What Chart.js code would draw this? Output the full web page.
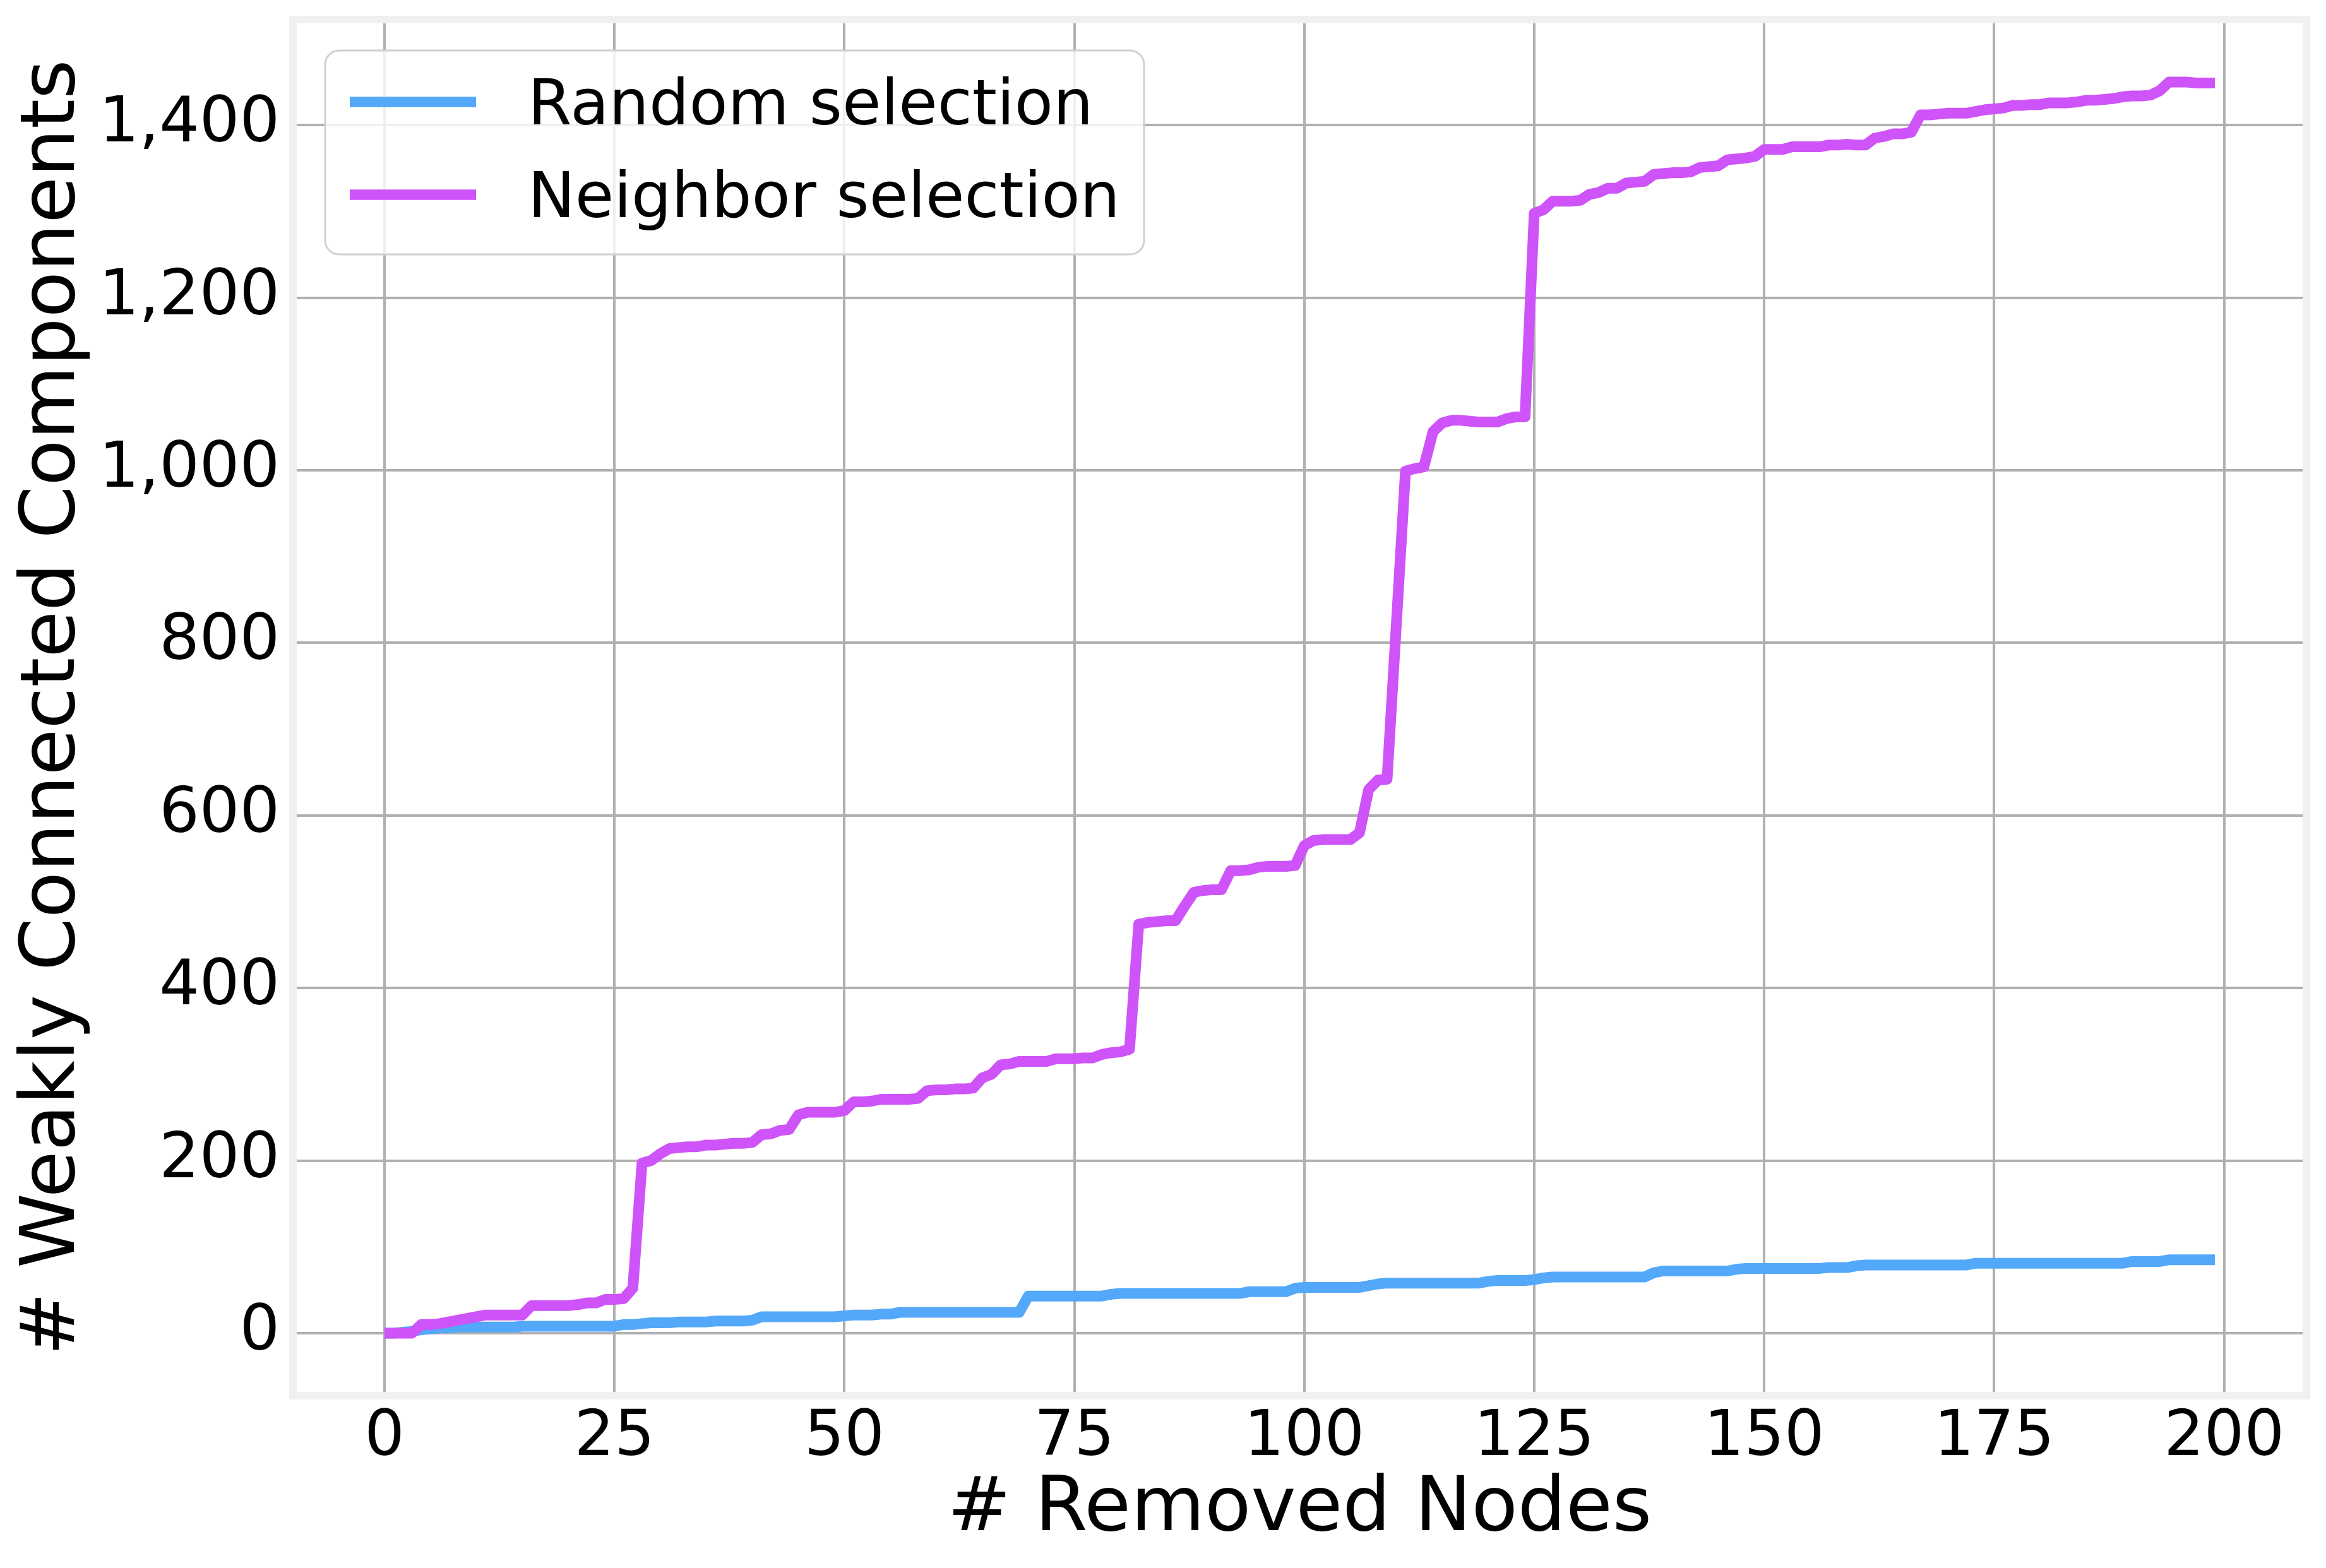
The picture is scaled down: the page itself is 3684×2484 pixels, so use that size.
<!DOCTYPE html>
<html>
<head>
<meta charset="utf-8">
<script src="https://cdn.jsdelivr.net/npm/chart.js@4"></script>
<style>
  html, body { margin: 0; padding: 0; background: #ffffff; }
  canvas { display: block; }
</style>
</head>
<body>
<canvas id="c" width="3684" height="2484" style="width:3684px;height:2484px"></canvas>
<script>
// ---- data ----
const seriesNames = ["Random selection", "Neighbor selection"];
const seriesColors = ["#53a8f9", "#ce53f8"];

const randomSelection = [
  0,0,1,2,4,5,6,6,7,7,
  7,7,7,7,7,8,8,8,8,8,
  8,8,8,8,8,8,10,10,11,12,
  12,12,13,13,13,13,14,14,14,14,
  15,19,19,19,19,19,19,19,19,19,
  20,21,21,21,22,22,24,24,24,24,
  24,24,24,24,24,24,24,24,24,24,
  43,43,43,43,43,43,43,43,43,45,
  46,46,46,46,46,46,46,46,46,46,
  46,46,46,46,48,48,48,48,48,52,
  53,53,53,53,53,53,53,55,57,58,
  58,58,58,58,58,58,58,58,58,58,
  60,61,61,61,61,62,64,65,65,65,
  65,65,65,65,65,65,65,65,70,72,
  72,72,72,72,72,72,72,74,75,75,
  75,75,75,75,75,75,75,76,76,76,
  78,79,79,79,79,79,79,79,79,79,
  79,79,79,81,81,81,81,81,81,81,
  81,81,81,81,81,81,81,81,81,81,
  83,83,83,83,85,85,85,85,85,85
];

const neighborSelection = [
  0,0,0,0,10,10,11,13,15,17,
  19,21,21,21,21,21,32,32,32,32,
  32,33,35,35,39,39,40,52,197,200,
  208,214,215,216,216,218,218,219,220,220,
  221,230,231,235,236,253,256,256,256,256,
  258,268,268,269,271,271,271,271,272,281,
  282,282,283,283,284,296,300,311,312,315,
  315,315,315,318,318,318,319,319,323,325,
  326,329,474,476,477,478,478,495,511,513,
  514,514,536,536,537,540,541,541,541,542,
  565,571,572,572,572,572,580,630,641,642,
  820,999,1002,1004,1045,1055,1058,1058,1057,1056,
  1056,1056,1060,1062,1062,1298,1302,1312,1312,1312,
  1313,1320,1322,1327,1327,1333,1334,1335,1343,1344,
  1345,1345,1346,1351,1352,1353,1360,1361,1362,1364,
  1372,1372,1372,1375,1375,1375,1375,1377,1377,1378,
  1377,1377,1385,1387,1390,1390,1392,1412,1412,1413,
  1414,1414,1414,1416,1418,1419,1420,1423,1423,1424,
  1424,1426,1426,1426,1427,1429,1429,1430,1431,1433,
  1434,1434,1435,1440,1450,1450,1450,1449,1449,1449
];

const removedNodes = randomSelection.map((_, i) => i);   // x: 0..199

const xTickValues = [0, 25, 50, 75, 100, 125, 150, 175, 200];
const yTickValues = [0, 200, 400, 600, 800, 1000, 1200, 1400];
const xTitle = "# Removed Nodes";
const yTitle = "# Weakly Connected Components";

// ---- chart ----
const FONT = "'DejaVu Sans', 'Liberation Sans', sans-serif";

function toPoints(ys) { return ys.map((y, i) => ({ x: removedNodes[i], y: y })); }

const xs = removedNodes;
const xMin = Math.min(...xs), xMax = Math.max(...xs);
const allY = randomSelection.concat(neighborSelection);
const yMin = Math.min(...allY), yMax = Math.max(...allY);
const xPad = (xMax - xMin) * 0.05, yPad = (yMax - yMin) * 0.05;

const bgPlugin = {
  id: 'bg',
  beforeDraw(chart) {
    const ctx = chart.ctx;
    ctx.save();
    ctx.fillStyle = '#ffffff';
    ctx.fillRect(0, 0, chart.width, chart.height);
    ctx.restore();
  }
};

const framePlugin = {
  id: 'frame',
  afterDatasetsDraw(chart) {
    const a = chart.chartArea, ctx = chart.ctx;
    ctx.save();
    ctx.strokeStyle = '#f0f0f0';
    ctx.lineWidth = 12;
    ctx.strokeRect(a.left, a.top, a.right - a.left, a.bottom - a.top);
    ctx.restore();
  }
};

function roundRect(ctx, x, y, w, h, r) {
  ctx.beginPath();
  ctx.moveTo(x + r, y);
  ctx.lineTo(x + w - r, y);
  ctx.arcTo(x + w, y, x + w, y + r, r);
  ctx.lineTo(x + w, y + h - r);
  ctx.arcTo(x + w, y + h, x + w - r, y + h, r);
  ctx.lineTo(x + r, y + h);
  ctx.arcTo(x, y + h, x, y + h - r, r);
  ctx.lineTo(x, y + r);
  ctx.arcTo(x, y, x + r, y, r);
  ctx.closePath();
}

const legendPlugin = {
  id: 'mplLegend',
  afterDraw(chart) {
    const ctx = chart.ctx;
    const boxX = 515, boxY = 80, boxW = 1297, boxH = 323;
    ctx.save();
    roundRect(ctx, boxX, boxY, boxW, boxH, 22);
    ctx.fillStyle = 'rgba(255,255,255,0.8)';
    ctx.fill();
    ctx.strokeStyle = '#d0d0d0';
    ctx.lineWidth = 3;
    ctx.stroke();
    const rowY = [161.5, 308.5];
    chart.data.datasets.forEach((ds, i) => {
      const y = rowY[i];
      ctx.beginPath();
      ctx.moveTo(554, y);
      ctx.lineTo(754, y);
      ctx.strokeStyle = ds.borderColor;
      ctx.lineWidth = 16.5;
      ctx.lineCap = 'butt';
      ctx.stroke();
      ctx.fillStyle = '#000000';
      ctx.font = '100px ' + FONT;
      ctx.textBaseline = 'alphabetic';
      ctx.textAlign = 'left';
      ctx.fillText(ds.label, 836, y + 35.5);
    });
    ctx.restore();
  }
};

new Chart(document.getElementById('c'), {
  type: 'line',
  data: {
    datasets: [
      {
        label: seriesNames[0],
        data: toPoints(randomSelection),
        borderColor: seriesColors[0],
        backgroundColor: seriesColors[0],
        borderWidth: 17,
        pointRadius: 0,
        tension: 0,
        fill: false,
        borderJoinStyle: 'round',
        borderCapStyle: 'butt',
        order: 2
      },
      {
        label: seriesNames[1],
        data: toPoints(neighborSelection),
        borderColor: seriesColors[1],
        backgroundColor: seriesColors[1],
        borderWidth: 17,
        pointRadius: 0,
        tension: 0,
        fill: false,
        borderJoinStyle: 'round',
        borderCapStyle: 'butt',
        order: 1
      }
    ]
  },
  options: {
    responsive: false,
    devicePixelRatio: 1,
    animation: false,
    events: [],
    layout: { padding: { left: 0, top: 31, right: 31, bottom: 0 } },
    plugins: {
      legend: { display: false },
      tooltip: { enabled: false },
      title: { display: false }
    },
    scales: {
      x: {
        type: 'linear',
        min: xMin - xPad,
        max: xMax + xPad,
        border: { display: false },
        grid: { color: '#b0b0b0', lineWidth: 4, drawTicks: false },
        afterBuildTicks(scale) { scale.ticks = xTickValues.map(v => ({ value: v })); },
        ticks: {
          padding: 8,
          color: '#000000',
          font: { family: FONT, size: 100 },
          maxRotation: 0,
          autoSkip: false,
          callback: (v) => String(v)
        },
        title: {
          display: true,
          text: xTitle,
          color: '#000000',
          font: { family: FONT, size: 120 },
          padding: { top: 0, bottom: 19 }
        },
        afterFit(scale) {
          scale.height = 273;
          scale.paddingLeft = 0;
          scale.paddingRight = 0;
        }
      },
      y: {
        type: 'linear',
        min: yMin - yPad,
        max: yMax + yPad,
        border: { display: false },
        grid: { color: '#b0b0b0', lineWidth: 4, drawTicks: false },
        afterBuildTicks(scale) { scale.ticks = yTickValues.map(v => ({ value: v })); },
        ticks: {
          padding: 21,
          color: '#000000',
          font: { family: FONT, size: 100 },
          autoSkip: false,
          callback: (v) => Number(v).toLocaleString('en-US')
        },
        title: {
          display: true,
          text: yTitle,
          color: '#000000',
          font: { family: FONT, size: 120 },
          padding: { top: 14, bottom: 0 }
        },
        afterFit(scale) {
          scale.width = 464;
          scale.paddingTop = 0;
          scale.paddingBottom = 0;
        }
      }
    }
  },
  plugins: [bgPlugin, framePlugin, legendPlugin]
});
</script>
</body>
</html>
